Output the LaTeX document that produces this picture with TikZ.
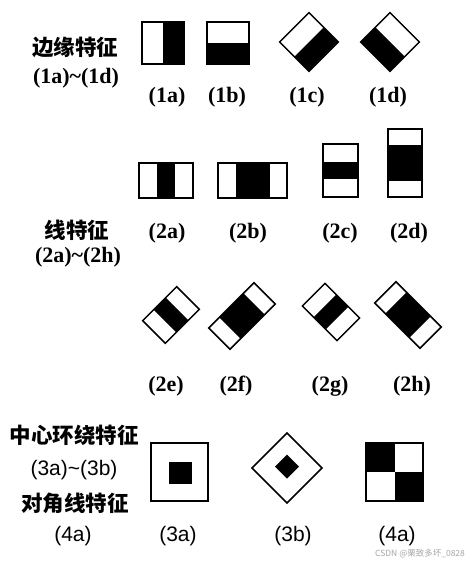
\documentclass[tikz,border=0pt]{standalone}
\usepackage{fontspec}
\setmainfont{Liberation Serif}
\newfontfamily\cjk{Noto Sans CJK SC}
\newfontfamily\sansf{Liberation Sans}
\begin{document}
\begin{tikzpicture}[x=1pt,y=-1pt,
  fb/.style={line width=1.5pt, draw=black, line join=miter},
  lab/.style={font=\fontsize{22}{25}\selectfont\bfseries, inner sep=0pt},
  slab/.style={font=\sansf\fontsize{21}{24}\selectfont, inner sep=0pt},
  zh/.style={font=\cjk\bfseries\fontsize{21.5}{24}\selectfont, inner sep=0pt},
  wm/.style={font=\cjk\fontsize{8.5}{10}\selectfont, text=black!35, inner sep=0pt}]
\useasboundingbox (0,0) rectangle (474,562);
\fill[white] (0,0) rectangle (474,562);

% ---------- row 1 : edge features ----------
% 1a
\fill (163,22) rectangle (184,64);
\draw[fb] (142,22) rectangle (184,64);
% 1b
\fill (207,42.5) rectangle (249,64);
\draw[fb] (207,22) rectangle (249,64);
% 1c
\begin{scope}[shift={(309,42)},rotate=-45]
  \fill (0,-20.75) rectangle (20.75,20.75);
  \draw[fb] (-20.75,-20.75) rectangle (20.75,20.75);
\end{scope}
% 1d
\begin{scope}[shift={(390,42)},rotate=45]
  \fill (-20.75,-20.75) rectangle (0,20.75);
  \draw[fb] (-20.75,-20.75) rectangle (20.75,20.75);
\end{scope}

% ---------- row 2 : line features ----------
% 2a
\fill (157,163) rectangle (175,198);
\draw[fb] (139,163) rectangle (193,198);
% 2b
\fill (235.5,163) rectangle (270,198);
\draw[fb] (218,163) rectangle (287,198);
% 2c
\fill (323,161.7) rectangle (358,179.3);
\draw[fb] (323,144) rectangle (358,197);
% 2d
\fill (388,145) rectangle (422,181);
\draw[fb] (388,129) rectangle (422,197);

% ---------- row 3 : rotated line features ----------
% 2e
\begin{scope}[shift={(171,315)},rotate=-45]
  \fill (-16,-8.5) rectangle (16,8.5);
  \draw[fb] (-16,-24) rectangle (16,24);
\end{scope}
% 2f
\begin{scope}[shift={(242,316)},rotate=-45]
  \fill (-15,-17) rectangle (15,17);
  \draw[fb] (-15,-32) rectangle (15,32);
\end{scope}
% 2g
\begin{scope}[shift={(331,312)},rotate=45]
  \fill (-16,-8.5) rectangle (16,8.5);
  \draw[fb] (-16,-24.5) rectangle (16,24.5);
\end{scope}
% 2h
\begin{scope}[shift={(408,315)},rotate=45]
  \fill (-15,-17) rectangle (15,17);
  \draw[fb] (-15,-32) rectangle (15,32);
\end{scope}

% ---------- row 4 : center-surround and diagonal ----------
% 3a
\draw[fb] (151,443) rectangle (208,501);
\fill (168.5,461.5) rectangle (191.5,484);
% 3b
\draw[fb] (252,468) -- (287,433) -- (322,468) -- (287,503) -- cycle;
\fill (275,466.5) -- (287,454.5) -- (299,466.5) -- (287,478.5) -- cycle;
% 4a
\fill (366,443) rectangle (394.5,472);
\fill (394.5,472) rectangle (423,501);
\draw[fb] (366,443) rectangle (423,501);

% ---------- labels ----------
\node[lab] (l1a) at (167,97) {(1a)};
\node[lab] (l1b) at (227,97) {(1b)};
\node[lab] (l1c) at (307,97) {(1c)};
\node[lab] (l1d) at (388,97) {(1d)};
\node[lab] (l2a) at (167,233) {(2a)};
\node[lab] (l2b) at (248,233) {(2b)};
\node[lab] (l2c) at (340,233) {(2c)};
\node[lab] (l2d) at (409,233) {(2d)};
\node[lab] (l2e) at (166,386) {(2e)};
\node[lab] (l2f) at (236,386) {(2f)};
\node[lab] (l2g) at (330,386) {(2g)};
\node[lab] (l2h) at (412,386) {(2h)};
\node[slab] (l3a) at (178,536) {(3a)};
\node[slab] (l3b) at (293,536) {(3b)};
\node[slab] (l4a) at (397,536) {(4a)};

% ---------- left captions ----------
\node[zh] (t1) at (75,47) {边缘特征};
\node[lab] (t1r) at (76,78) {(1a)\textasciitilde(1d)};
\node[zh] (t2) at (77,230) {线特征};
\node[lab] (t2r) at (78,257) {(2a)\textasciitilde(2h)};
\node[zh] (t3) at (74,435) {中心环绕特征};
\node[slab] (t3r) at (74,470) {(3a)\textasciitilde(3b)};
\node[zh] (t4) at (75,503) {对角线特征};
\node[slab] (t4r) at (73,536) {(4a)};

% watermark
\node[wm] (wmk) at (420,554) {CSDN @栗致多坏\_0828};
\end{tikzpicture}
\end{document}
